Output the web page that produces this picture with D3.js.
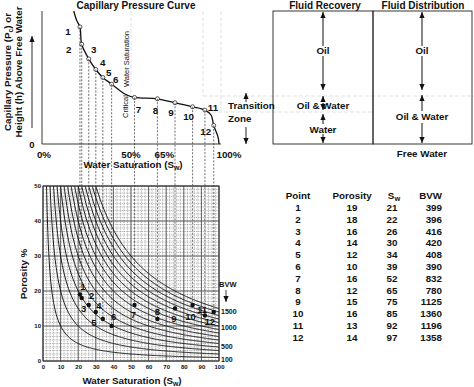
<!DOCTYPE html>
<html><head><meta charset="utf-8">
<script src="https://cdn.jsdelivr.net/npm/d3@7"></script>
<style>
body{margin:0;background:#fff}
svg{display:block}
text{font-family:"Liberation Sans",Arial,Helvetica,sans-serif;fill:#111}
</style>
</head><body>
<svg id="c" width="474" height="387"></svg>
<script>
// ---------- data ----------
const pointIds  = [1,2,3,4,5,6,7,8,9,10,11,12];
const porosity  = [19,18,16,14,12,10,16,12,15,16,13,14];
const sw        = [21,22,26,30,34,39,52,65,75,85,92,97];
const bvw       = [399,396,416,420,408,390,832,780,1125,1360,1196,1358];
// relative height above free water of each point on the capillary curve (0-100)
const capHeight = [88,75,64,56,50,45,35,34,31,28,25.5,14];
// capillary pressure curve nodes (Sw %, relative height)
const curveSw = [17.5,19.1,21,22,26,30,34,39,46.5,52,65,75,85,92,95.5,97,99.4,100];
const curveH  = [100,93,88,75,64,56,50,45,37.6,35,34,31,28,25.5,21.8,14,5.5,0];
const topTicks = ["0%","50%","65%","100%"];
const topTickVals = [0,50,65,100];
// bulk volume water hyperbolas
const bvwCurves = [100,200,300,400,500,600,700,800,900,1000,1100,1200,1300,1400,1500];
const bvwLabels = [100,500,1000,1500];
const xTicks = [0,10,20,30,40,50,60,70,80,90,100];
const yTicks = [0,10,20,30,40,50];
const tableHeaders = ["Point","Porosity","Sw","BVW"];

// ---------- setup ----------
const svg = d3.select("#c");
const xS = d3.scaleLinear().domain([0,100]).range([43,219]);
const yTop = d3.scaleLinear().domain([0,100]).range([144,11]);
const yB = d3.scaleLinear().domain([0,50]).range([361,186]);
const BOLD = 700;

function arrow(g, x, yFrom, yTo, w=1){
  g.append("line").attr("x1",x).attr("x2",x).attr("y1",yFrom).attr("y2",yTo)
   .attr("stroke","#111").attr("stroke-width",w);
  const d = yTo < yFrom ? 1 : -1;
  g.append("path").attr("d",`M${x},${yTo} L${x-2.6},${yTo+d*6} L${x+2.6},${yTo+d*6} Z`).attr("fill","#111");
}
function subText(sel, main, sub, after){
  sel.append("tspan").text(main);
  sel.append("tspan").text(sub).attr("font-size","70%").attr("dy",2);
  sel.append("tspan").text(after).attr("dy",-2);
}

// ---------- faint guide lines ----------
const faint = svg.append("g").attr("stroke","#dadada").attr("stroke-width",0.8).attr("stroke-dasharray","4,2").attr("fill","none");
faint.append("line").attr("x1",xS(50)).attr("x2",xS(50)).attr("y1",11).attr("y2",96);
faint.append("line").attr("x1",203).attr("x2",203).attr("y1",11).attr("y2",96);
faint.append("line").attr("x1",221).attr("x2",221).attr("y1",11).attr("y2",112);
faint.append("line").attr("x1",203).attr("x2",474).attr("y1",96).attr("y2",96);
faint.append("line").attr("x1",206).attr("x2",373).attr("y1",112).attr("y2",112);

// ---------- top: capillary pressure curve ----------
const tp = svg.append("g");
tp.append("text").attr("x",136).attr("y",9).attr("text-anchor","middle")
  .attr("font-size",10).attr("font-weight",BOLD).text("Capillary Pressure Curve");
tp.append("line").attr("x1",42).attr("x2",42).attr("y1",11).attr("y2",144).attr("stroke","#222").attr("stroke-width",0.9);
tp.append("line").attr("x1",42).attr("x2",221).attr("y1",144).attr("y2",144).attr("stroke","#222").attr("stroke-width",0.9);

const yl = tp.append("text").attr("transform","translate(11,72) rotate(-90)").attr("text-anchor","middle")
  .attr("font-size",9.8).attr("font-weight",BOLD);
subText(yl,"Capillary Pressure (P","c",") or");
tp.append("text").attr("transform","translate(22,72) rotate(-90)").attr("text-anchor","middle")
  .attr("font-size",9.8).attr("font-weight",BOLD).text("Height (h) Above Free Water");
arrow(tp,32,128,36,0.9);
tp.append("text").attr("x",32).attr("y",148).attr("text-anchor","middle").attr("font-size",9.5).attr("font-weight",BOLD).text("0");

const tickDx = [1,0,7,10];
tp.selectAll("text.tt").data(topTickVals).join("text").attr("class","tt")
  .attr("x",(d,i)=>xS(d)+tickDx[i]).attr("y",158).attr("text-anchor","middle")
  .attr("font-size",9.8).attr("font-weight",BOLD).text((d,i)=>topTicks[i]);
const xl = tp.append("text").attr("x",133).attr("y",168).attr("text-anchor","middle").attr("font-size",9.8).attr("font-weight",BOLD);
subText(xl,"Water Saturation (S","w",")");

// connectors
const conn = svg.append("g").attr("stroke","#222").attr("stroke-width",0.65).attr("stroke-dasharray","2,1.5");
conn.selectAll("line").data(pointIds).join("line")
  .attr("x1",(d,i)=>xS(sw[i])).attr("x2",(d,i)=>xS(sw[i]))
  .attr("y1",(d,i)=>yTop(capHeight[i])).attr("y2",(d,i)=>yB(porosity[i]));

const curveData = curveSw.map((s,i)=>[s,curveH[i]]);
tp.append("path").datum(curveData)
  .attr("d",d3.line().x(d=>xS(d[0])).y(d=>yTop(d[1])).curve(d3.curveCatmullRom.alpha(0.5)))
  .attr("fill","none").attr("stroke","#111").attr("stroke-width",1.3);
tp.selectAll("circle").data(pointIds).join("circle")
  .attr("cx",(d,i)=>xS(sw[i])).attr("cy",(d,i)=>yTop(capHeight[i])).attr("r",2)
  .attr("fill","#fff").attr("stroke","#111").attr("stroke-width",0.7);
const topOff = [[-12,5],[-13,5],[5,-9],[7,-7],[6,-5],[4,-5],[4,12],[-2,12],[-4,10],[-4,10],[8,-3],[-8,6]];
tp.selectAll("text.pl").data(pointIds).join("text").attr("class","pl")
  .attr("x",(d,i)=>xS(sw[i])+topOff[i][0]).attr("y",(d,i)=>yTop(capHeight[i])+topOff[i][1]+3.5)
  .attr("text-anchor","middle").attr("font-size",9.8).attr("font-weight",BOLD).text(d=>d);
tp.append("text").attr("transform",`translate(128,118) rotate(-90)`).attr("font-size",7.5).attr("fill","#222").text("Critical");
tp.append("text").attr("transform",`translate(129,87) rotate(-90)`).attr("font-size",7.5).attr("fill","#222").text("Water Saturation");

// ---------- right panel ----------
const rp = svg.append("g");
rp.append("rect").attr("x",273).attr("y",11).attr("width",100).attr("height",133).attr("fill","none").attr("stroke","#222").attr("stroke-width",0.9);
rp.append("rect").attr("x",373).attr("y",11).attr("width",99).attr("height",133).attr("fill","none").attr("stroke","#222").attr("stroke-width",0.9);
rp.append("text").attr("x",325).attr("y",9).attr("text-anchor","middle").attr("font-size",10).attr("font-weight",BOLD).text("Fluid Recovery");
rp.append("text").attr("x",423).attr("y",9).attr("text-anchor","middle").attr("font-size",10).attr("font-weight",BOLD).text("Fluid Distribution");
const rx = 323, dx2 = 422;
arrow(rp,rx,46,12); arrow(rp,rx,56,90);
arrow(rp,rx,102,96); arrow(rp,rx,104,110);
arrow(rp,rx,124,114); arrow(rp,rx,134,143);
arrow(rp,dx2,46,12); arrow(rp,dx2,56,90);
arrow(rp,dx2,111,95); arrow(rp,dx2,123,143);
const lab = (x,y,t)=>rp.append("text").attr("x",x).attr("y",y).attr("text-anchor","middle").attr("font-size",9.8).attr("font-weight",BOLD).text(t);
lab(rx,54,"Oil"); lab(rx,109,"Oil & Water"); lab(rx,133,"Water");
lab(dx2,54,"Oil"); lab(dx2,120,"Oil & Water"); lab(dx2,157,"Free Water");
arrow(rp,246,102,93,0.9); arrow(rp,246,127,144,0.9);
rp.append("text").attr("x",228).attr("y",109).attr("font-size",9.8).attr("font-weight",BOLD).text("Transition");
rp.append("text").attr("x",228).attr("y",122).attr("font-size",9.8).attr("font-weight",BOLD).text("Zone");

// ---------- bottom crossplot ----------
const bt = svg.append("g");
const x0 = xS(0), x1 = xS(100), y0 = yB(0), y1 = yB(50);
const minorX = d3.range(0,101,2), minorY = d3.range(0,51,1);
bt.append("g").attr("stroke","#777").attr("stroke-width",0.55).attr("stroke-dasharray","1,0.8")
  .selectAll("line").data(minorX).join("line").attr("x1",d=>xS(d)).attr("x2",d=>xS(d)).attr("y1",y1).attr("y2",y0);
bt.append("g").attr("stroke","#777").attr("stroke-width",0.55).attr("stroke-dasharray","1,0.8")
  .selectAll("line").data(minorY).join("line").attr("y1",d=>yB(d)).attr("y2",d=>yB(d)).attr("x1",x0).attr("x2",x1);
bt.append("g").attr("stroke","#555").attr("stroke-width",0.9)
  .selectAll("line").data(xTicks).join("line").attr("x1",d=>xS(d)).attr("x2",d=>xS(d)).attr("y1",y1).attr("y2",y0);
bt.append("g").attr("stroke","#555").attr("stroke-width",0.9)
  .selectAll("line").data(yTicks).join("line").attr("y1",d=>yB(d)).attr("y2",d=>yB(d)).attr("x1",x0).attr("x2",x1);
svg.append("clipPath").attr("id","pc").append("rect").attr("x",x0).attr("y",y1).attr("width",x1-x0).attr("height",y0-y1);
const hyper = b => d3.range(b/50, 100.01, 0.5).concat([100]).map(s=>[s,b/s]);
bt.append("g").attr("clip-path","url(#pc)").selectAll("path").data(bvwCurves).join("path")
  .attr("d",b=>d3.line().x(d=>xS(d[0])).y(d=>yB(d[1])).curve(d3.curveBasis)(hyper(b)))
  .attr("fill","none").attr("stroke","#111").attr("stroke-width",0.95);
bt.append("rect").attr("x",x0).attr("y",y1).attr("width",x1-x0).attr("height",y0-y1).attr("fill","none").attr("stroke","#333").attr("stroke-width",1);
const ax = bt.append("g").attr("transform",`translate(0,${y0+4})`)
  .call(d3.axisBottom(xS).tickValues(xTicks).tickSize(0).tickPadding(0));
const ay = bt.append("g").attr("transform",`translate(${x0-2},0)`)
  .call(d3.axisLeft(yB).tickValues(yTicks).tickSize(0).tickPadding(0));
[ax,ay].forEach(a=>{a.select(".domain").remove();
  a.selectAll("text").attr("font-family","'Liberation Serif',serif").attr("font-size",6).attr("font-weight",BOLD).attr("fill","#333");});
bt.append("text").attr("transform","translate(27,274) rotate(-90)").attr("text-anchor","middle")
  .attr("font-size",9.8).attr("font-weight",BOLD).text("Porosity %");
const bxl = bt.append("text").attr("x",132).attr("y",384).attr("text-anchor","middle").attr("font-size",9.8).attr("font-weight",BOLD);
subText(bxl,"Water Saturation (S","w",")");
bt.selectAll("circle").data(pointIds).join("circle")
  .attr("cx",(d,i)=>xS(sw[i])).attr("cy",(d,i)=>yB(porosity[i])).attr("r",2.2).attr("fill","#111");
const botOff = [[3,-8],[10,-2],[-5,4],[3,-6],[-9,4],[2,-9],[-1,10],[0,-7],[-1,10],[-2,12],[-3,-6],[-4,10]];
bt.selectAll("text.bl").data(pointIds).join("text").attr("class","bl")
  .attr("x",(d,i)=>xS(sw[i])+botOff[i][0]).attr("y",(d,i)=>yB(porosity[i])+botOff[i][1]+3.3)
  .attr("text-anchor","middle").attr("font-size",9.5).attr("font-weight",BOLD).text(d=>d);
bt.append("text").attr("x",219).attr("y",287).attr("font-size",7.5).attr("font-weight",BOLD).text("BVW");
arrow(bt,226,290,302,0.8);
const bvwNudge = [2,3,1,3];
bt.selectAll("text.bv").data(bvwLabels).join("text").attr("class","bv")
  .attr("x",221).attr("y",(d,i)=>yB(d/100)+bvwNudge[i]+2.5)
  .attr("font-size",7).attr("font-weight",BOLD).text(d=>d);

// ---------- table ----------
const tb = svg.append("g").attr("font-size",9.8).attr("font-weight",BOLD);
const colX = [298,352,392,442];
const colAnchor = ["middle","middle","middle","end"];
tb.selectAll("text.h").data(tableHeaders).join("text").attr("class","h")
  .attr("x",(d,i)=>colX[i]+(i===2?2:0)).attr("y",199)
  .each(function(d,i){
    const t=d3.select(this).attr("text-anchor",colAnchor[i]);
    if(d==="Sw"){ t.append("tspan").text("S"); t.append("tspan").text("w").attr("font-size","75%").attr("dy",2);} else t.text(d);
  });
const cols = [pointIds, porosity, sw, bvw];
cols.forEach((arr,ci)=>{
  tb.selectAll("text.c"+ci).data(arr).join("text").attr("class","c"+ci)
    .attr("x",colX[ci]).attr("y",(d,i)=>211+i*11.8).attr("text-anchor",colAnchor[ci]).text(d=>d);
});
</script>
</body></html>
